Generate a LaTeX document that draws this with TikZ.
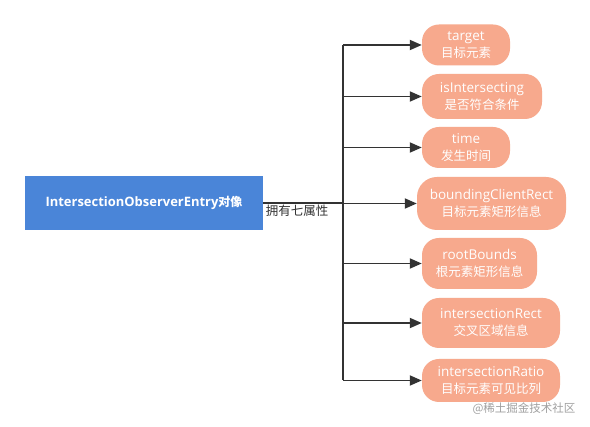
\documentclass[tikz,border=0pt]{standalone}
\usepackage{fontspec}
\setmainfont{Noto Sans CJK SC}
\newfontfamily\lat[Scale=1.08]{Open Sans}
\usetikzlibrary{arrows.meta}
\definecolor{bluebox}{HTML}{4A85D8}
\definecolor{salmon}{HTML}{F7A98D}
\definecolor{linec}{HTML}{333333}
\definecolor{wm}{HTML}{A0A0A0}
\tikzset{
  mainbox/.style={rectangle, fill=bluebox, text=white, font=\bfseries\fontsize{12}{14}\selectfont, inner sep=0pt},
  propbox/.style={rectangle, rounded corners=17pt, fill=salmon, text=white, align=center, font=\fontsize{12.5}{17}\selectfont, inner sep=0pt},
  conn/.style={draw=linec, line width=1.8pt},
  arr/.style={conn, -{Triangle[length=12pt,width=10pt]}},
  lbl/.style={fill=white, text=linec, inner sep=1pt, font=\fontsize{12.5}{14}\selectfont},
}
\begin{document}
\begin{tikzpicture}[x=1pt,y=-1pt]
\useasboundingbox[fill=white] (0,0) rectangle (590,427);
\node[mainbox, minimum width=238pt, minimum height=54pt] (main) at (144,203) {{\lat\bfseries IntersectionObserverEntry}对像};
\node[propbox, minimum width=88pt, minimum height=41pt] (n1) at (466,45) {{\lat target}\\目标元素};
\node[propbox, minimum width=120pt, minimum height=45pt] (n2) at (482,96.5) {{\lat isIntersecting}\\是否符合条件};
\node[propbox, minimum width=88pt, minimum height=41pt] (n3) at (466,147.5) {{\lat time}\\发生时间};
\node[propbox, minimum width=149pt, minimum height=53pt, rounded corners=20pt] (n4) at (491.5,203.5) {{\lat boundingClientRect}\\目标元素矩形信息};
\node[propbox, minimum width=115pt, minimum height=51pt] (n5) at (479.5,263.5) {{\lat rootBounds}\\根元素矩形信息};
\node[propbox, minimum width=138pt, minimum height=50pt] (n6) at (491,323) {{\lat intersectionRect}\\交叉区域信息};
\node[propbox, minimum width=138pt, minimum height=43pt] (n7) at (491,380.5) {{\lat intersectionRatio}\\目标元素可见比列};
\coordinate (t1) at (343,45);
\coordinate (t2) at (343,96.5);
\coordinate (t3) at (343,147.5);
\coordinate (t4) at (343,203.5);
\coordinate (t5) at (343,263.5);
\coordinate (t6) at (343,323);
\coordinate (t7) at (343,380.5);
\draw[conn] (main.east) -- (main.east -| t4);
\draw[conn] (t1) -- (t7);
\foreach \i in {1,...,7} {
  \draw[arr] (t\i) -- (t\i -| n\i.west);
}
\node[lbl] (lab) at (297,211) {拥有七属性};
\node[text=wm, font=\fontsize{11.5}{13}\selectfont, anchor=east] (wmk) at (579,409) {@稀土掘金技术社区};
\end{tikzpicture}
\end{document}
